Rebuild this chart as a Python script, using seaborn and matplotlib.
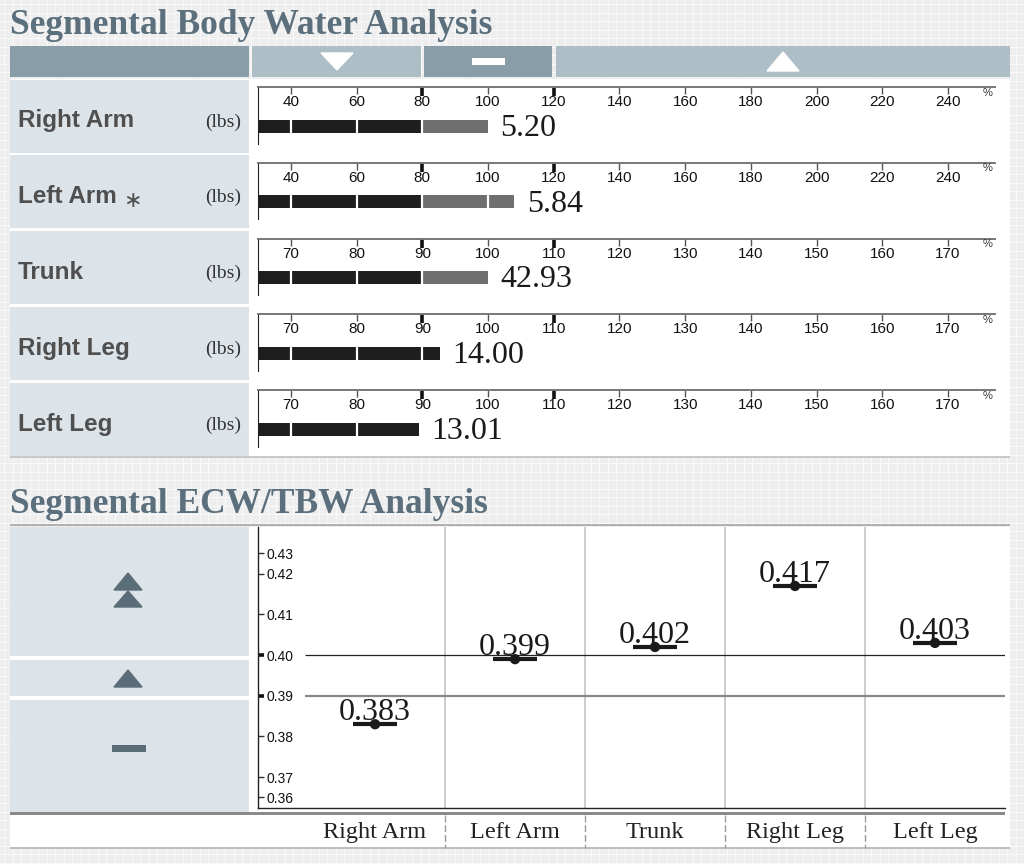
import numpy as np
import matplotlib
matplotlib.use("Agg")
import matplotlib.pyplot as plt
from matplotlib.patches import Rectangle, Polygon
import seaborn as sns

sns.set_theme(style="white")
plt.rcParams["font.family"] = ["Liberation Sans", "DejaVu Sans"]
SERIF = ["Liberation Serif", "DejaVu Serif"]

# ---------------- data ----------------
segments = ["Right Arm", "Left Arm", "Trunk", "Right Leg", "Left Leg"]
water_lbs = ["5.20", "5.84", "42.93", "14.00", "13.01"]
water_pct = [100, 108, 100, 92.7, 89.5]          # bar length in % of standard
tail_color = ["#6f6f6f", "#6f6f6f", "#6f6f6f", "#1e1e1e", "#1e1e1e"]
pct_ticks_arm = [40, 60, 80, 100, 120, 140, 160, 180, 200, 220, 240]
pct_ticks_body = [70, 80, 90, 100, 110, 120, 130, 140, 150, 160, 170]
normal_arm = (80, 120)
normal_body = (90, 110)

ecw_tbw = [0.383, 0.399, 0.402, 0.417, 0.403]
ecw_ticks = [0.36, 0.37, 0.38, 0.39, 0.40, 0.41, 0.42, 0.43]
ecw_bold = [0.39, 0.40]

# ---------------- layout helpers (pixels) ----------------
W, H = 1024, 864
fig = plt.figure(figsize=(W / 100, H / 100), dpi=100)


def rect(x0, y0, x1, y1):
    return [x0 / W, 1 - y1 / H, (x1 - x0) / W, (y1 - y0) / H]


TITLE_C = "#5b6f7d"
DARK_H = "#889da7"
LIGHT_H = "#adbec7"
BOX = "#dce3e9"
ICON = "#5a6d79"

# background page with faint grid
bg = fig.add_axes([0, 0, 1, 1])
bg.set_xlim(0, W)
bg.set_ylim(H, 0)
bg.axis("off")
bg.add_patch(Rectangle((0, 0), W, H, color="#eeeeee", zorder=0))
for g in np.arange(4, W, 8.5):
    bg.axvline(g, color="#fafafa", lw=0.7, zorder=0.5)
for g in np.arange(4, H, 8.5):
    bg.axhline(g, color="#fafafa", lw=0.7, zorder=0.5)


def box(x0, y0, x1, y1, c, z=1):
    bg.add_patch(Rectangle((x0, y0), x1 - x0, y1 - y0, color=c, zorder=z, lw=0))


# ---------------- Segmental Body Water Analysis ----------------
bg.text(10, 34, "Segmental Body Water Analysis", family=SERIF, weight="bold",
        fontsize=25.5, color=TITLE_C, va="baseline", ha="left", zorder=3)

box(10, 46, 249, 77, DARK_H)
box(252, 46, 421, 77, LIGHT_H)
box(424, 46, 552, 77, DARK_H)
box(556, 46, 1010, 77, LIGHT_H)
bg.add_patch(Polygon([(321, 53), (353, 53), (337, 70)], color="white", zorder=2))
box(472, 58, 505, 65, "white", 2)
bg.add_patch(Polygon([(767, 71), (799, 71), (783, 52)], color="white", zorder=2))

box(10, 79, 1010, 456, "white")
box(10, 456, 1010, 458, "#c8c8c8")

for i, seg in enumerate(segments):
    top = 79.5 + 75.75 * i
    box(10, top, 249, top + 73, BOX, 2)
    bg.text(18, top + 48, seg, fontsize=17.5, weight="bold", color="#4f4f4f",
            va="baseline", ha="left", zorder=3)
    bg.text(241, top + 47, "(lbs)", family=SERIF, fontsize=14, color="#333333",
            va="baseline", ha="right", zorder=3)
    if seg == "Left Arm":
        bg.text(123, top + 52, "\u2217", family=["DejaVu Sans"], fontsize=16,
                color="#4f4f4f", va="baseline", ha="left", zorder=3)

    ticks = pct_ticks_arm if i < 2 else pct_ticks_body
    lo, hi = normal_arm if i < 2 else normal_body
    step = ticks[1] - ticks[0]
    val = water_pct[i]

    ax = fig.add_axes(rect(258, top + 7.5, 995, top + 64))
    ax.set_facecolor("none")
    ax.barh(0, val, height=1, color=tail_color[i], lw=0)
    ax.barh(0, min(val, lo), height=1, color="#1e1e1e", lw=0)
    seps = [t for t in ticks if t < val]
    ax.vlines(seps, -0.5, 0.5, color="white", lw=1.6)
    ax.annotate(water_lbs[i], xy=(val, 0), xytext=(9, -7),
                textcoords="offset points", ha="left", va="baseline",
                family=SERIF, fontsize=23, color="#1a1a1a")

    ax.set_xlim(ticks[0] - step / 2, ticks[0] + step * 10.715)
    ax.set_ylim(-1.35, 3.05)
    ax.set_yticks([])
    ax.set_xticks(ticks)
    ax.set_xticklabels([str(t) for t in ticks])
    ax.xaxis.tick_top()
    ax.tick_params(axis="x", direction="in", length=5, width=1, color="#555555",
                   pad=-16, labelsize=11, labelcolor="#111111")
    for t, tk in zip(ticks, ax.xaxis.get_major_ticks()):
        if t in (lo, hi):
            tk.tick2line.set_markeredgewidth(2.6)
            tk.tick2line.set_markersize(6.5)
            tk.tick2line.set_markeredgecolor("#111111")
    for s in ["right", "bottom"]:
        ax.spines[s].set_visible(False)
    ax.spines["top"].set_color("#777777")
    ax.spines["top"].set_linewidth(1.4)
    ax.spines["left"].set_color("#222222")
    ax.spines["left"].set_linewidth(0.8)
    ax.text(0.996, 0.9, "%", transform=ax.transAxes, ha="right", va="center",
            fontsize=8, color="#333333")

# ---------------- Segmental ECW/TBW Analysis ----------------
bg.text(10, 513, "Segmental ECW/TBW Analysis", family=SERIF, weight="bold",
        fontsize=25.5, color=TITLE_C, va="baseline", ha="left", zorder=3)
box(10, 524, 1010, 526, "#b0b0b0")
box(10, 527, 1010, 848, "white")
box(10, 527, 249, 656, BOX, 2)
box(10, 660, 249, 696, BOX, 2)
box(10, 700, 249, 812, BOX, 2)
for y0, y1 in [(573, 590), (591, 607), (670, 687)]:
    bg.add_patch(Polygon([(114, y1), (142, y1), (128, y0)], color=ICON, zorder=3))
box(112, 745, 146, 752, ICON, 3)
box(10, 812, 1005, 815, "#8a8a8a", 3)
box(10, 847, 1010, 849, "#bdbdbd", 3)

knots_v = [0.20, 0.37, 0.42, 0.60]
knots_m = [0.37 - 0.085, 0.37, 0.42, 0.42 + 0.09]


def fwd(v):
    return np.interp(v, knots_v, knots_m)


def inv(m):
    return np.interp(m, knots_m, knots_v)


ax2 = fig.add_axes(rect(258, 527, 1005, 808))
ax2.set_facecolor("none")
ax2.set_yscale("function", functions=(fwd, inv))
ylo, yhi = 0.3548, 0.443

ax2.vlines([0.5, 1.5, 2.5, 3.5], ylo, yhi, color="#c4c4c4", lw=1.2, zorder=1)
ax2.hlines(0.40, -0.5, 4.5, color="#222222", lw=0.9, zorder=2)
ax2.hlines(0.39, -0.5, 4.5, color="#888888", lw=1.6, zorder=2)

ax2.plot(segments, ecw_tbw, ls="none", marker="_", ms=31, mew=3,
         color="#1a1a1a", zorder=4)
sns.scatterplot(x=segments, y=ecw_tbw, ax=ax2, color="#1a1a1a", s=55,
                edgecolor="none", zorder=5, legend=False)
for i, v in enumerate(ecw_tbw):
    ax2.annotate(f"{v:.3f}", xy=(i, v), xytext=(0, 3), textcoords="offset points",
                 ha="center", va="baseline", family=SERIF, fontsize=23,
                 color="#1a1a1a", zorder=6)

ax2.set_xlim(-0.836, 4.5)
ax2.set_ylim(ylo, yhi)
ax2.set_yticks(ecw_ticks)
ax2.set_yticklabels([f"{t:.2f}" for t in ecw_ticks], ha="left")
ax2.minorticks_off()
ax2.tick_params(axis="y", left=True, direction="in", length=4, width=1,
                color="#333333", pad=-6, labelsize=10, labelcolor="#111111")
for t, tk in zip(ecw_ticks, ax2.yaxis.get_major_ticks()):
    if t in ecw_bold:
        tk.tick1line.set_markeredgewidth(2.6)
        tk.tick1line.set_markeredgecolor("#111111")
ax2.set_xticks(range(len(segments)))
ax2.set_xticklabels(segments, family=SERIF, fontsize=17.5, color="#222222")
ax2.tick_params(axis="x", length=0, pad=10)
ax2.set_xlabel("")
ax2.set_ylabel("")
ax2.vlines([0.5, 1.5, 2.5, 3.5], -0.026, -0.142, transform=ax2.get_xaxis_transform(),
           clip_on=False, color="#9a9a9a", lw=1, linestyles=(0, (5, 2)))
for s in ["right", "top"]:
    ax2.spines[s].set_visible(False)
for s in ["left", "bottom"]:
    ax2.spines[s].set_color("#222222")
    ax2.spines[s].set_linewidth(1)

fig.savefig("out.png", dpi=100)
